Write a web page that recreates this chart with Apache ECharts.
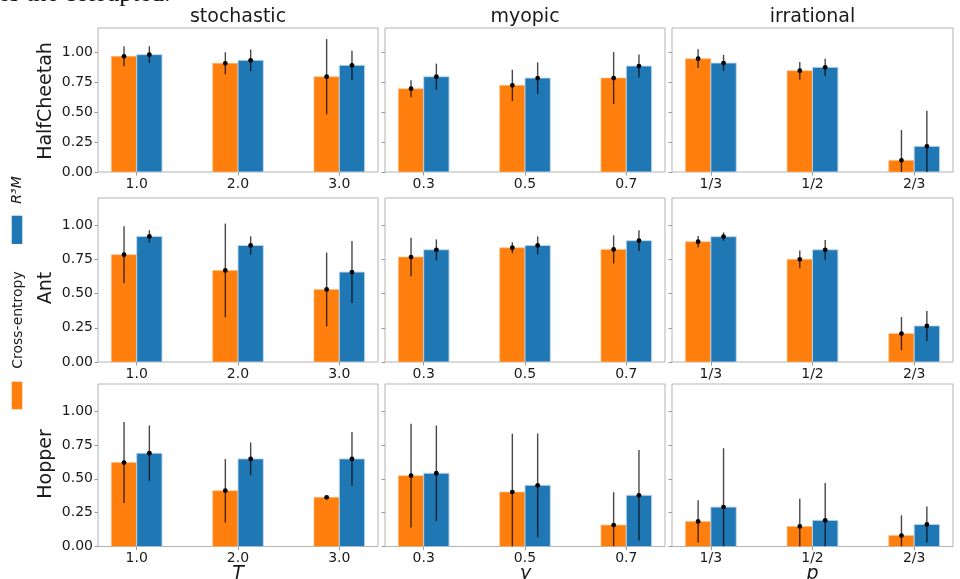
<!DOCTYPE html>
<html>
<head>
<meta charset="utf-8">
<script src="https://cdn.jsdelivr.net/npm/echarts@6/dist/echarts.min.js"></script>
<style>
html,body{margin:0;padding:0;background:#fff;}
#main{width:960px;height:579px;}
</style>
</head>
<body>
<div id="main"></div>
<script>
// ---- data ----
const envs = ['HalfCheetah', 'Ant', 'Hopper'];
const groups = ['stochastic', 'myopic', 'irrational'];
const stochasticTicks = ['1.0', '2.0', '3.0'];
const myopicTicks = ['0.3', '0.5', '0.7'];
const irrationalTicks = ['1/3', '1/2', '2/3'];
const groupSymbols = ['T', 'γ', 'p'];
const yTicks = [0, 0.25, 0.5, 0.75, 1.0];
const methods = ['Cross-entropy', 'R³M'];

// values ordered: stochastic(3), myopic(3), irrational(3)
const halfCheetahCEMean = [0.964, 0.906, 0.794, 0.694, 0.722, 0.783, 0.944, 0.844, 0.097];
const halfCheetahCEErr  = [0.083, 0.092, 0.314, 0.071, 0.130, 0.217, 0.078, 0.073, 0.253];
const halfCheetahR3MMean = [0.978, 0.931, 0.889, 0.794, 0.783, 0.883, 0.908, 0.872, 0.214];
const halfCheetahR3MErr  = [0.070, 0.090, 0.122, 0.109, 0.131, 0.096, 0.067, 0.071, 0.297];

const antCEMean = [0.785, 0.670, 0.531, 0.768, 0.836, 0.824, 0.880, 0.751, 0.208];
const antCEErr  = [0.208, 0.343, 0.270, 0.141, 0.040, 0.103, 0.042, 0.065, 0.121];
const antR3MMean = [0.919, 0.853, 0.658, 0.821, 0.853, 0.888, 0.917, 0.821, 0.264];
const antR3MErr  = [0.045, 0.067, 0.227, 0.076, 0.066, 0.076, 0.031, 0.072, 0.110];

const hopperCEMean = [0.620, 0.412, 0.363, 0.523, 0.402, 0.158, 0.185, 0.148, 0.081];
const hopperCEErr  = [0.299, 0.235, 0.007, 0.383, 0.430, 0.242, 0.156, 0.205, 0.149];
const hopperR3MMean = [0.689, 0.647, 0.647, 0.541, 0.452, 0.378, 0.291, 0.193, 0.163];
const hopperR3MErr  = [0.204, 0.121, 0.198, 0.352, 0.383, 0.334, 0.435, 0.276, 0.133];

// ---- build ----
const groupTicks = [stochasticTicks, myopicTicks, irrationalTicks];
const envData = [
  [halfCheetahCEMean, halfCheetahCEErr, halfCheetahR3MMean, halfCheetahR3MErr],
  [antCEMean, antCEErr, antR3MMean, antR3MErr],
  [hopperCEMean, hopperCEErr, hopperR3MMean, hopperR3MErr]
];
const colors = ['#ff7f0e', '#1f77b4'];
const colLeft = [98, 385, 672];
const colWidth = [280, 280, 281];
const rowTop = [28, 198, 384];
const rowHeight = [144, 164, 162.5];
const YMAX = 1.2;
const FONT = '"DejaVu Sans", sans-serif';
const textColor = '#1a1a1a';
const frameColor = '#b3b3b3';

const grids = [], xAxes = [], yAxes = [], series = [];
let gi = 0;
for (let r = 0; r < 3; r++) {
  for (let c = 0; c < 3; c++) {
    grids.push({
      left: colLeft[c], top: rowTop[r], width: colWidth[c], height: rowHeight[r],
      show: true, borderColor: frameColor, borderWidth: 1, backgroundColor: '#fff'
    });
    const ticks = groupTicks[c];
    xAxes.push({
      type: 'value', gridIndex: gi, min: -0.382, max: 2.382, position: 'bottom',
      axisLine: { show: false, onZero: false },
      splitLine: { show: false },
      axisTick: { show: true, customValues: [0, 1, 2], length: 3.5, lineStyle: { color: '#999', width: 1 } },
      axisLabel: {
        show: true, customValues: [0, 1, 2], margin: 5,
        formatter: function (v) { return ticks[Math.round(v)]; },
        color: textColor, fontSize: 14, fontFamily: FONT
      }
    });
    yAxes.push({
      type: 'value', gridIndex: gi, min: 0, max: YMAX, position: 'left',
      axisLine: { show: false, onZero: false },
      splitLine: { show: false },
      axisTick: { show: true, customValues: yTicks, length: 3.5, lineStyle: { color: '#999', width: 1 } },
      axisLabel: {
        show: c === 0, customValues: yTicks, margin: 5,
        formatter: function (v) { return v.toFixed(2); },
        color: textColor, fontSize: 14, fontFamily: FONT
      }
    });
    const d = envData[r];
    const data = [];
    for (let i = 0; i < 3; i++) {
      const k = c * 3 + i;
      data.push([i, d[0][k], d[1][k], 0]);
      data.push([i, d[2][k], d[3][k], 1]);
    }
    series.push({
      type: 'custom', xAxisIndex: gi, yAxisIndex: gi, clip: true,
      data: data,
      encode: { x: 0, y: 1 },
      renderItem: function (params, api) {
        const x = api.value(0), m = api.value(1), e = api.value(2), k = api.value(3);
        const cx = x + (k === 0 ? -0.125 : 0.125);
        const tl = api.coord([cx - 0.125, m]);
        const br = api.coord([cx + 0.125, 0]);
        const top = api.coord([cx, Math.min(m + e, YMAX)]);
        const bot = api.coord([cx, Math.max(m - e, 0)]);
        const mid = api.coord([cx, m]);
        return {
          type: 'group',
          children: [
            { type: 'rect', shape: { x: tl[0], y: tl[1], width: br[0] - tl[0], height: br[1] - tl[1] },
              style: { fill: colors[k], stroke: k === 1 ? 'rgba(190,215,238,0.9)' : 'rgba(255,190,130,0.6)', lineWidth: 1 } },
            { type: 'line', shape: { x1: top[0], y1: top[1], x2: bot[0], y2: bot[1] },
              style: { stroke: 'rgba(0,0,0,0.72)', lineWidth: 1.4 } },
            { type: 'circle', shape: { cx: mid[0], cy: mid[1], r: 2.4 }, style: { fill: '#000' } }
          ]
        };
      }
    });
    gi++;
  }
}

const graphics = [];
// top cropped paper text
graphics.push({ type: 'text', x: -2, y: -6, style: { text: 'es the corrupted.', fill: '#111', font: '26px "Liberation Serif", serif', verticalAlign: 'middle', align: 'left' } });
// column titles and axis symbols
for (let c = 0; c < 3; c++) {
  graphics.push({ type: 'text', x: colLeft[c] + colWidth[c] / 2, y: 17,
    style: { text: groups[c], fill: textColor, font: '19px ' + FONT, align: 'center', verticalAlign: 'middle' } });
  graphics.push({ type: 'text', x: colLeft[c] + colWidth[c] / 2, y: 565,
    style: { text: groupSymbols[c], fill: textColor, font: 'italic 19px ' + FONT, align: 'center', verticalAlign: 'top' } });
}
// row labels
const rowLabelY = [101, 288, 464];
for (let r = 0; r < 3; r++) {
  graphics.push({ type: 'text', x: 46, y: rowLabelY[r], rotation: Math.PI / 2,
    style: { text: envs[r], fill: textColor, font: '19px ' + FONT, align: 'center', verticalAlign: 'middle' } });
}
// legend
graphics.push({ type: 'text', x: 17, y: 190, rotation: Math.PI / 2,
  style: { text: methods[1], fill: textColor, font: 'italic 14px ' + FONT, align: 'center', verticalAlign: 'middle' } });
graphics.push({ type: 'rect', shape: { x: 11.7, y: 215.7, width: 10.6, height: 28.3 }, style: { fill: colors[1] } });
graphics.push({ type: 'text', x: 18, y: 320, rotation: Math.PI / 2,
  style: { text: methods[0], fill: textColor, font: '14px ' + FONT, align: 'center', verticalAlign: 'middle' } });
graphics.push({ type: 'rect', shape: { x: 11.7, y: 381.7, width: 10.6, height: 27.6 }, style: { fill: colors[0] } });

const chart = echarts.init(document.getElementById('main'), null, { renderer: 'canvas' });
chart.setOption({
  animation: false,
  backgroundColor: '#fff',
  grid: grids,
  xAxis: xAxes,
  yAxis: yAxes,
  series: series,
  graphic: graphics
});
</script>
</body>
</html>
